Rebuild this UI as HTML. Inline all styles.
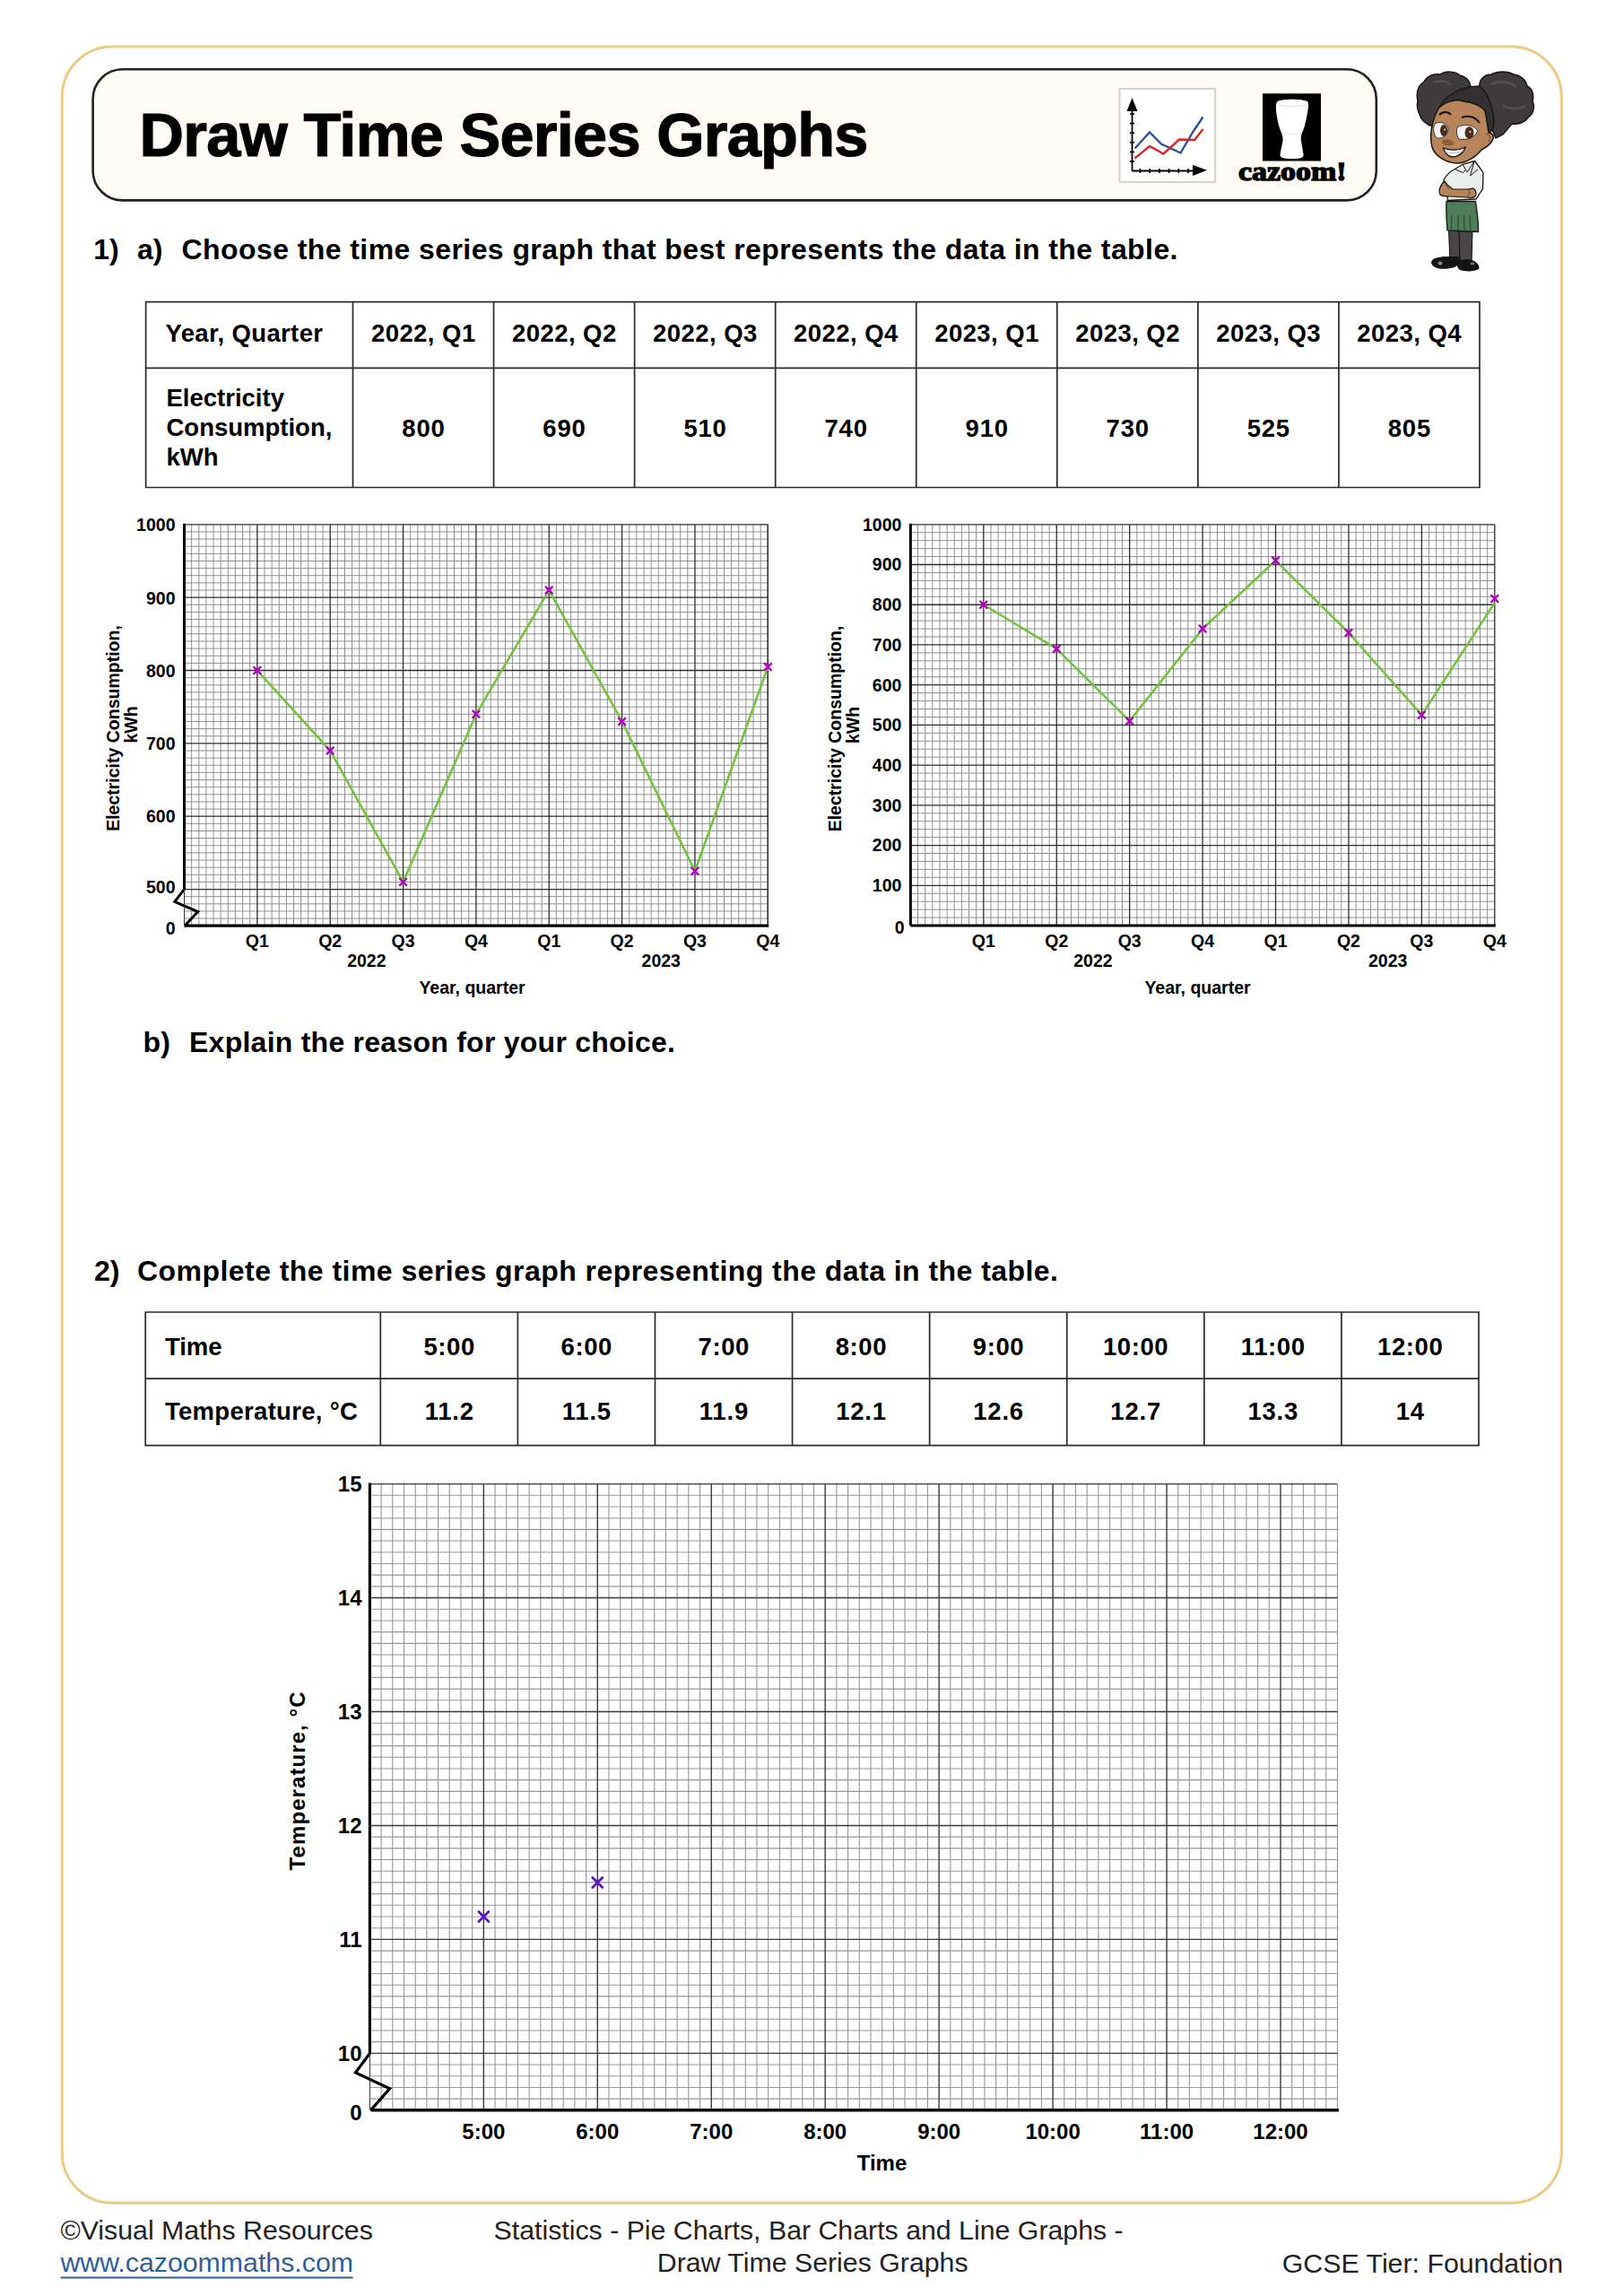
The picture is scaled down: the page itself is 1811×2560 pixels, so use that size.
<!DOCTYPE html><html><head><meta charset="utf-8"><title>Draw Time Series Graphs</title><style>
html,body{margin:0;padding:0;background:#fff;}body{width:1811px;height:2560px;overflow:hidden;position:relative;font-family:"Liberation Sans", sans-serif;}
svg{position:absolute;left:0;top:0;}text{font-family:"Liberation Sans", sans-serif;}
</style></head><body>
<svg width="1811" height="2560" viewBox="0 0 1811 2560">
<rect x="69.2" y="52" width="1672.1" height="2404.3" rx="56" ry="56" fill="none" stroke="#eecb84" stroke-width="3"/>
<rect x="103.6" y="77.3" width="1431.2" height="146.1" rx="33" ry="33" fill="#fefbf4" stroke="#222" stroke-width="2.6"/>
<text x="155.5" y="173.6" font-size="68.5" font-weight="bold" text-anchor="start" fill="#000" letter-spacing="-0.72" stroke="#000" stroke-width="1.2" stroke-linejoin="round">Draw Time Series Graphs</text>
<rect x="1248.5" y="99" width="106.6" height="104" fill="#fff" stroke="#d4d4d4" stroke-width="2.2"/>
<path d="M1262.5 190.5H1341" stroke="#000" stroke-width="1.8"/>
<path d="M1262.5 190.5V122" stroke="#000" stroke-width="1.8"/>
<path d="M1256.5 124L1262.5 109L1268.5 124Z" fill="#000"/>
<path d="M1330 184L1346 189.8L1330 196Z" fill="#000"/>
<path d="M1260 127H1265" stroke="#000" stroke-width="1.6"/>
<path d="M1260 137.6H1265" stroke="#000" stroke-width="1.6"/>
<path d="M1260 148.2H1265" stroke="#000" stroke-width="1.6"/>
<path d="M1260 158.8H1265" stroke="#000" stroke-width="1.6"/>
<path d="M1260 169.4H1265" stroke="#000" stroke-width="1.6"/>
<path d="M1260 180H1265" stroke="#000" stroke-width="1.6"/>
<path d="M1271.5 188V193" stroke="#000" stroke-width="1.6"/>
<path d="M1282.2 188V193" stroke="#000" stroke-width="1.6"/>
<path d="M1292.9 188V193" stroke="#000" stroke-width="1.6"/>
<path d="M1303.6 188V193" stroke="#000" stroke-width="1.6"/>
<path d="M1314.3 188V193" stroke="#000" stroke-width="1.6"/>
<path d="M1325 188V193" stroke="#000" stroke-width="1.6"/>
<path d="M1265.5 165.5L1282 147.5L1295 160.5L1316.5 170.5L1331 146L1341.5 130.5" stroke="#2f4fa0" stroke-width="2.4" fill="none"/>
<path d="M1265.5 176.5L1282 163L1297.5 171.5L1315 155.5L1332 156L1341.5 144" stroke="#d42a2a" stroke-width="2.4" fill="none"/>
<rect x="1408" y="104.3" width="65" height="75.2" fill="#000"/>
<path d="M1424.5 113C1431 110 1451 110 1458 113C1460.5 116 1458 127 1455 140C1452.5 148 1450 151 1451 157L1453.5 172C1454 176 1451 177 1441 177C1431 177 1427 176 1427.5 172L1430.5 157C1431 151 1428.5 148 1426 140C1423 127 1421.5 116 1424.5 113Z" fill="#fff"/>
<path d="M1426 117C1433 119 1450 119 1457 117" stroke="#ddd" stroke-width="1" fill="none"/>
<path d="M1431 148C1437 150 1446 150 1451 148" stroke="#ddd" stroke-width="1" fill="none"/>
<text x="1381" y="200.5" style="font-family:'Liberation Serif',serif" font-size="30" font-weight="bold" fill="#000" stroke="#000" stroke-width="1.4" textLength="120.5" lengthAdjust="spacingAndGlyphs">cazoom!</text>
<path d="M1615.5 256L1628 257L1627.5 290L1617 290Z" fill="#4a4648" stroke="#161414" stroke-width="1.1"/>
<path d="M1627 257L1642 258L1641 292L1628 292Z" fill="#4a4648" stroke="#161414" stroke-width="1.1"/>
<path d="M1596 293C1596 288 1604 286 1614 286L1626 286C1628 291 1627 296 1622 298C1612 301 1598 301 1596 293Z" fill="#141414"/>
<path d="M1626 290L1639 289C1646 291 1651 296 1649 300C1645 303 1633 303 1628 301C1624 298 1624 293 1626 290Z" fill="#141414"/>
<ellipse cx="1606" cy="293.5" rx="2.6" ry="2" fill="#888"/>
<ellipse cx="1642" cy="294" rx="2.4" ry="1.4" fill="#777"/>
<path d="M1613 224.5L1645.5 224.5C1647 235 1649 248 1648.5 258.5L1614 257C1613 246 1612.5 235 1613 224.5Z" fill="#4e7d5c" stroke="#161414" stroke-width="1.3"/>
<path d="M1619 240L1618.5 257M1626 240L1626 257.5M1632.5 240L1633 258M1639 240L1640 258" stroke="#1f3a28" stroke-width="0.9"/>
<path d="M1622.5 188.5L1631.5 183L1644.5 179.5C1648 184 1651 188 1654 192.5L1653.5 210.5L1646 222L1614.5 223.5L1613 210L1610 200.5C1613 195 1617 191 1622.5 188.5Z" fill="#eceeed" stroke="#161414" stroke-width="1.3"/>
<path d="M1631 183L1636 192L1644 180M1623 189L1631.5 192.5L1634 190M1644 180L1639.5 196L1648 189" stroke="#161414" stroke-width="1" fill="none"/>
<path d="M1610.5 202C1606 207 1604 213 1606 217C1608 219 1612 219 1617 219L1636 220C1640 221 1643 221 1645 219C1647 216 1646 212 1643 210L1637 211L1620 211L1614 206Z" fill="#b78559" stroke="#161414" stroke-width="1.2"/>
<path d="M1612 206L1616 211M1637.5 211C1639 214 1639 217 1637 219" stroke="#5b3a22" stroke-width="0.9" fill="none"/>
<path d="M1581 113C1579 103 1582 95 1588 91C1592 84 1600 82 1606 83C1612 79 1622 79 1628 84C1634 85 1639 90 1640 96C1636 104 1626 108 1612 114L1607 130L1598 141C1590 139 1584 133 1583 127C1580 122 1580 117 1581 113Z" fill="#3f3b3d" stroke="#161414" stroke-width="1.5"/>
<path d="M1650 97C1649 89 1655 83 1663 83C1670 79 1681 79 1688 83C1696 84 1702 90 1703 96C1709 99 1711 106 1709 113C1712 119 1710 127 1704 131C1701 136 1694 139 1686 138L1676 150L1668 154L1656 126Z" fill="#3f3b3d" stroke="#161414" stroke-width="1.5"/>
<path d="M1599 92C1605 89 1614 90 1618 95M1663 94C1672 89 1684 91 1690 97M1676 118C1684 122 1694 122 1701 118" stroke="#555153" stroke-width="2.2" fill="none"/>
<path d="M1605 120C1613 104 1632 96 1650 96C1660 104 1666 122 1666 140L1660 152L1600 132Z" fill="#343032" stroke="#161414" stroke-width="1.3"/>
<path d="M1604 121C1612 113 1624 110 1632 113C1642 114 1652 118 1656 124C1658 132 1659 141 1660 148C1664 148 1667 152 1664 157C1661 162 1656 165 1652 167C1645 176 1634 182 1624 182C1612 181 1600 174 1597 164C1594 152 1596 136 1604 121Z" fill="#b78559" stroke="#161414" stroke-width="1.5"/>
<path d="M1600 138C1605 135 1612 136 1615 143C1615 150 1610 155 1602 154C1598 149 1598 142 1600 138Z" fill="#f3f3f3" stroke="#161414" stroke-width="0.8"/>
<path d="M1625 142C1631 138 1643 138 1648 146C1645 153 1636 157 1627 155C1624 151 1624 146 1625 142Z" fill="#f3f3f3" stroke="#161414" stroke-width="0.8"/>
<ellipse cx="1610" cy="145.5" rx="4" ry="6.5" fill="#4e2d1a"/>
<ellipse cx="1638.5" cy="148" rx="5" ry="6.8" fill="#4e2d1a"/>
<circle cx="1611" cy="144.5" r="0.9" fill="#fff"/><circle cx="1639.5" cy="147" r="0.9" fill="#fff"/>
<path d="M1605 128C1609 124 1615 124 1618 128M1630 131C1637 128 1645 130 1650 137" stroke="#161414" stroke-width="2" fill="none"/>
<path d="M1608 157C1612 154 1619 155 1622 160C1619 163 1612 163 1608 160Z" fill="#8f5d38"/>
<path d="M1609.5 165C1617 168 1627 168 1634 164C1632 171 1626 175 1619 175C1614 174 1611 170 1609.5 165Z" fill="#fafafa" stroke="#161414" stroke-width="1.3"/>
<path d="M1611 169.5C1618 171 1626 171 1632 168.5" stroke="#999" stroke-width="0.7" fill="none"/>
<path d="M1657 150C1661 149 1663 153 1660 158" stroke="#5b3a22" stroke-width="1" fill="none"/>
<text x="104.2" y="288.5" font-size="32" font-weight="bold" text-anchor="start" fill="#000" >1)</text>
<text x="153" y="288.5" font-size="32" font-weight="bold" text-anchor="start" fill="#000" >a)</text>
<text x="202.5" y="288.5" font-size="32" font-weight="bold" text-anchor="start" fill="#000" textLength="1111" lengthAdjust="spacing">Choose the time series graph that best represents the data in the table.</text>
<path d="M162.6 336.6H1650M162.6 410.3H1650M162.6 543.5H1650M162.6 336.6V543.5M393.5 336.6V543.5M550.56 336.6V543.5M707.62 336.6V543.5M864.69 336.6V543.5M1021.75 336.6V543.5M1178.81 336.6V543.5M1335.88 336.6V543.5M1492.94 336.6V543.5M1650 336.6V543.5" stroke="#2a2a2a" stroke-width="1.7" fill="none" stroke-linecap="square"/>
<text x="184.5" y="381" font-size="27.5" font-weight="bold" text-anchor="start" fill="#000" textLength="175.5" lengthAdjust="spacing">Year, Quarter</text>
<text x="185.5" y="453.3" font-size="27.5" font-weight="bold" text-anchor="start" fill="#000" >Electricity</text>
<text x="185.5" y="486" font-size="27.5" font-weight="bold" text-anchor="start" fill="#000" >Consumption,</text>
<text x="185.5" y="518.6" font-size="27.5" font-weight="bold" text-anchor="start" fill="#000" >kWh</text>
<text x="472.28" y="381" font-size="27.5" font-weight="bold" text-anchor="middle" fill="#000" letter-spacing="0.45">2022, Q1</text>
<text x="472.43" y="486.5" font-size="27.5" font-weight="bold" text-anchor="middle" fill="#000" letter-spacing="0.8">800</text>
<text x="629.34" y="381" font-size="27.5" font-weight="bold" text-anchor="middle" fill="#000" letter-spacing="0.45">2022, Q2</text>
<text x="629.49" y="486.5" font-size="27.5" font-weight="bold" text-anchor="middle" fill="#000" letter-spacing="0.8">690</text>
<text x="786.41" y="381" font-size="27.5" font-weight="bold" text-anchor="middle" fill="#000" letter-spacing="0.45">2022, Q3</text>
<text x="786.56" y="486.5" font-size="27.5" font-weight="bold" text-anchor="middle" fill="#000" letter-spacing="0.8">510</text>
<text x="943.47" y="381" font-size="27.5" font-weight="bold" text-anchor="middle" fill="#000" letter-spacing="0.45">2022, Q4</text>
<text x="943.62" y="486.5" font-size="27.5" font-weight="bold" text-anchor="middle" fill="#000" letter-spacing="0.8">740</text>
<text x="1100.53" y="381" font-size="27.5" font-weight="bold" text-anchor="middle" fill="#000" letter-spacing="0.45">2023, Q1</text>
<text x="1100.68" y="486.5" font-size="27.5" font-weight="bold" text-anchor="middle" fill="#000" letter-spacing="0.8">910</text>
<text x="1257.59" y="381" font-size="27.5" font-weight="bold" text-anchor="middle" fill="#000" letter-spacing="0.45">2023, Q2</text>
<text x="1257.74" y="486.5" font-size="27.5" font-weight="bold" text-anchor="middle" fill="#000" letter-spacing="0.8">730</text>
<text x="1414.66" y="381" font-size="27.5" font-weight="bold" text-anchor="middle" fill="#000" letter-spacing="0.45">2023, Q3</text>
<text x="1414.81" y="486.5" font-size="27.5" font-weight="bold" text-anchor="middle" fill="#000" letter-spacing="0.8">525</text>
<text x="1571.72" y="381" font-size="27.5" font-weight="bold" text-anchor="middle" fill="#000" letter-spacing="0.45">2023, Q4</text>
<text x="1571.87" y="486.5" font-size="27.5" font-weight="bold" text-anchor="middle" fill="#000" letter-spacing="0.8">805</text>
<path d="M213.63 584.8V1032.22M221.77 584.8V1032.22M229.91 584.8V1032.22M238.04 584.8V1032.22M246.18 584.8V1032.22M254.31 584.8V1032.22M262.44 584.8V1032.22M270.58 584.8V1032.22M278.72 584.8V1032.22M294.99 584.8V1032.22M303.12 584.8V1032.22M311.25 584.8V1032.22M319.39 584.8V1032.22M327.52 584.8V1032.22M335.66 584.8V1032.22M343.79 584.8V1032.22M351.93 584.8V1032.22M360.06 584.8V1032.22M376.34 584.8V1032.22M384.47 584.8V1032.22M392.61 584.8V1032.22M400.74 584.8V1032.22M408.88 584.8V1032.22M417.01 584.8V1032.22M425.14 584.8V1032.22M433.28 584.8V1032.22M441.41 584.8V1032.22M457.69 584.8V1032.22M465.82 584.8V1032.22M473.95 584.8V1032.22M482.09 584.8V1032.22M490.22 584.8V1032.22M498.36 584.8V1032.22M506.5 584.8V1032.22M514.63 584.8V1032.22M522.76 584.8V1032.22M539.03 584.8V1032.22M547.17 584.8V1032.22M555.31 584.8V1032.22M563.44 584.8V1032.22M571.58 584.8V1032.22M579.71 584.8V1032.22M587.85 584.8V1032.22M595.98 584.8V1032.22M604.12 584.8V1032.22M620.38 584.8V1032.22M628.52 584.8V1032.22M636.65 584.8V1032.22M644.79 584.8V1032.22M652.92 584.8V1032.22M661.06 584.8V1032.22M669.19 584.8V1032.22M677.33 584.8V1032.22M685.46 584.8V1032.22M701.74 584.8V1032.22M709.87 584.8V1032.22M718 584.8V1032.22M726.14 584.8V1032.22M734.27 584.8V1032.22M742.41 584.8V1032.22M750.54 584.8V1032.22M758.68 584.8V1032.22M766.81 584.8V1032.22M783.09 584.8V1032.22M791.22 584.8V1032.22M799.36 584.8V1032.22M807.49 584.8V1032.22M815.62 584.8V1032.22M823.76 584.8V1032.22M831.89 584.8V1032.22M840.03 584.8V1032.22M848.16 584.8V1032.22" stroke="#8e8e8e" stroke-width="1.0" fill="none"/>
<path d="M205.5 592.93H856.3M205.5 601.07H856.3M205.5 609.2H856.3M205.5 617.34H856.3M205.5 625.47H856.3M205.5 633.61H856.3M205.5 641.75H856.3M205.5 649.88H856.3M205.5 658.01H856.3M205.5 674.28H856.3M205.5 682.42H856.3M205.5 690.55H856.3M205.5 698.69H856.3M205.5 706.82H856.3M205.5 714.96H856.3M205.5 723.09H856.3M205.5 731.23H856.3M205.5 739.37H856.3M205.5 755.63H856.3M205.5 763.77H856.3M205.5 771.9H856.3M205.5 780.04H856.3M205.5 788.17H856.3M205.5 796.31H856.3M205.5 804.44H856.3M205.5 812.58H856.3M205.5 820.71H856.3M205.5 836.98H856.3M205.5 845.12H856.3M205.5 853.25H856.3M205.5 861.39H856.3M205.5 869.52H856.3M205.5 877.66H856.3M205.5 885.79H856.3M205.5 893.93H856.3M205.5 902.06H856.3M205.5 918.33H856.3M205.5 926.47H856.3M205.5 934.61H856.3M205.5 942.74H856.3M205.5 950.88H856.3M205.5 959.01H856.3M205.5 967.14H856.3M205.5 975.28H856.3M205.5 983.41H856.3M205.5 999.68H856.3M205.5 1007.82H856.3M205.5 1015.95H856.3M205.5 1024.09H856.3" stroke="#8e8e8e" stroke-width="1.0" fill="none"/>
<path d="M286.85 584.8V1032.22M368.2 584.8V1032.22M449.55 584.8V1032.22M530.9 584.8V1032.22M612.25 584.8V1032.22M693.6 584.8V1032.22M774.95 584.8V1032.22M856.3 584.8V1032.22M205.5 584.8H856.3M205.5 666.15H856.3M205.5 747.5H856.3M205.5 828.85H856.3M205.5 910.2H856.3M205.5 991.55H856.3" stroke="#2e2e2e" stroke-width="1.3" fill="none"/>
<path d="M856.3 584.8V1032.22" stroke="#2e2e2e" stroke-width="1.3"/>
<path d="M205.5 1032.22H857.3" stroke="#000" stroke-width="3.2"/>
<path d="M205.5 583.8V991.55L194.8 1005.4L220.7 1016.5L206 1032.22" stroke="#000" stroke-width="3" fill="none" stroke-linejoin="miter"/>
<polyline points="286.85,747.5 368.2,836.98 449.55,983.41 530.9,796.31 612.25,658.01 693.6,804.44 774.95,971.21 856.3,743.43" fill="none" stroke="#74c23e" stroke-width="2.6" stroke-linejoin="round"/>
<path d="M283.25 743.9L290.45 751.1M283.25 751.1L290.45 743.9" stroke="#b300bf" stroke-width="2.4" stroke-linecap="round"/>
<path d="M364.6 833.38L371.8 840.58M364.6 840.58L371.8 833.38" stroke="#b300bf" stroke-width="2.4" stroke-linecap="round"/>
<path d="M445.95 979.81L453.15 987.01M445.95 987.01L453.15 979.81" stroke="#b300bf" stroke-width="2.4" stroke-linecap="round"/>
<path d="M527.3 792.71L534.5 799.91M527.3 799.91L534.5 792.71" stroke="#b300bf" stroke-width="2.4" stroke-linecap="round"/>
<path d="M608.65 654.41L615.85 661.62M608.65 661.62L615.85 654.41" stroke="#b300bf" stroke-width="2.4" stroke-linecap="round"/>
<path d="M690 800.84L697.2 808.04M690 808.04L697.2 800.84" stroke="#b300bf" stroke-width="2.4" stroke-linecap="round"/>
<path d="M771.35 967.61L778.55 974.81M771.35 974.81L778.55 967.61" stroke="#b300bf" stroke-width="2.4" stroke-linecap="round"/>
<path d="M852.7 739.83L859.9 747.03M852.7 747.03L859.9 739.83" stroke="#b300bf" stroke-width="2.4" stroke-linecap="round"/>
<text x="195.5" y="591.7" font-size="19.5" font-weight="bold" text-anchor="end" fill="#000" >1000</text>
<text x="195.5" y="673.75" font-size="19.5" font-weight="bold" text-anchor="end" fill="#000" >900</text>
<text x="195.5" y="755.1" font-size="19.5" font-weight="bold" text-anchor="end" fill="#000" >800</text>
<text x="195.5" y="836.25" font-size="19.5" font-weight="bold" text-anchor="end" fill="#000" >700</text>
<text x="195.5" y="917.4" font-size="19.5" font-weight="bold" text-anchor="end" fill="#000" >600</text>
<text x="195.5" y="995.85" font-size="19.5" font-weight="bold" text-anchor="end" fill="#000" >500</text>
<text x="195.5" y="1041.62" font-size="19.5" font-weight="bold" text-anchor="end" fill="#000" >0</text>
<path d="M205.5 991.55V1032.22" stroke="#333" stroke-width="1"/>
<text x="286.85" y="1056.3" font-size="19.5" font-weight="bold" text-anchor="middle" fill="#000" >Q1</text>
<text x="368.2" y="1056.3" font-size="19.5" font-weight="bold" text-anchor="middle" fill="#000" >Q2</text>
<text x="449.55" y="1056.3" font-size="19.5" font-weight="bold" text-anchor="middle" fill="#000" >Q3</text>
<text x="530.9" y="1056.3" font-size="19.5" font-weight="bold" text-anchor="middle" fill="#000" >Q4</text>
<text x="612.25" y="1056.3" font-size="19.5" font-weight="bold" text-anchor="middle" fill="#000" >Q1</text>
<text x="693.6" y="1056.3" font-size="19.5" font-weight="bold" text-anchor="middle" fill="#000" >Q2</text>
<text x="774.95" y="1056.3" font-size="19.5" font-weight="bold" text-anchor="middle" fill="#000" >Q3</text>
<text x="856.3" y="1056.3" font-size="19.5" font-weight="bold" text-anchor="middle" fill="#000" >Q4</text>
<text x="408.88" y="1078.3" font-size="19.5" font-weight="bold" text-anchor="middle" fill="#000" >2022</text>
<text x="737.27" y="1078.3" font-size="19.5" font-weight="bold" text-anchor="middle" fill="#000" >2023</text>
<text x="526.5" y="1107.5" font-size="19.5" font-weight="bold" text-anchor="middle" fill="#000" >Year, quarter</text>
<text x="132.5" y="812" font-size="19.5" font-weight="bold" text-anchor="middle" fill="#000" transform="rotate(-90 132.5 812)">Electricity Consumption,</text>
<text x="153.4" y="808" font-size="19.5" font-weight="bold" text-anchor="middle" fill="#000" transform="rotate(-90 153.4 808)">kWh</text>
<path d="M1023.54 584.8V1032M1031.68 584.8V1032M1039.83 584.8V1032M1047.97 584.8V1032M1056.11 584.8V1032M1064.25 584.8V1032M1072.4 584.8V1032M1080.54 584.8V1032M1088.68 584.8V1032M1104.97 584.8V1032M1113.11 584.8V1032M1121.25 584.8V1032M1129.39 584.8V1032M1137.54 584.8V1032M1145.68 584.8V1032M1153.82 584.8V1032M1161.96 584.8V1032M1170.11 584.8V1032M1186.39 584.8V1032M1194.53 584.8V1032M1202.68 584.8V1032M1210.82 584.8V1032M1218.96 584.8V1032M1227.11 584.8V1032M1235.25 584.8V1032M1243.39 584.8V1032M1251.53 584.8V1032M1267.82 584.8V1032M1275.96 584.8V1032M1284.1 584.8V1032M1292.24 584.8V1032M1300.39 584.8V1032M1308.53 584.8V1032M1316.67 584.8V1032M1324.82 584.8V1032M1332.96 584.8V1032M1349.24 584.8V1032M1357.38 584.8V1032M1365.53 584.8V1032M1373.67 584.8V1032M1381.81 584.8V1032M1389.95 584.8V1032M1398.1 584.8V1032M1406.24 584.8V1032M1414.38 584.8V1032M1430.67 584.8V1032M1438.81 584.8V1032M1446.95 584.8V1032M1455.1 584.8V1032M1463.24 584.8V1032M1471.38 584.8V1032M1479.52 584.8V1032M1487.66 584.8V1032M1495.81 584.8V1032M1512.09 584.8V1032M1520.23 584.8V1032M1528.38 584.8V1032M1536.52 584.8V1032M1544.66 584.8V1032M1552.8 584.8V1032M1560.95 584.8V1032M1569.09 584.8V1032M1577.23 584.8V1032M1593.52 584.8V1032M1601.66 584.8V1032M1609.8 584.8V1032M1617.94 584.8V1032M1626.09 584.8V1032M1634.23 584.8V1032M1642.37 584.8V1032M1650.51 584.8V1032M1658.66 584.8V1032" stroke="#8e8e8e" stroke-width="1.0" fill="none"/>
<path d="M1015.4 593.74H1666.8M1015.4 602.69H1666.8M1015.4 611.63H1666.8M1015.4 620.58H1666.8M1015.4 638.46H1666.8M1015.4 647.41H1666.8M1015.4 656.35H1666.8M1015.4 665.3H1666.8M1015.4 683.18H1666.8M1015.4 692.13H1666.8M1015.4 701.07H1666.8M1015.4 710.02H1666.8M1015.4 727.9H1666.8M1015.4 736.85H1666.8M1015.4 745.79H1666.8M1015.4 754.74H1666.8M1015.4 772.62H1666.8M1015.4 781.57H1666.8M1015.4 790.51H1666.8M1015.4 799.46H1666.8M1015.4 817.34H1666.8M1015.4 826.29H1666.8M1015.4 835.23H1666.8M1015.4 844.18H1666.8M1015.4 862.06H1666.8M1015.4 871.01H1666.8M1015.4 879.95H1666.8M1015.4 888.9H1666.8M1015.4 906.78H1666.8M1015.4 915.73H1666.8M1015.4 924.67H1666.8M1015.4 933.62H1666.8M1015.4 951.5H1666.8M1015.4 960.45H1666.8M1015.4 969.39H1666.8M1015.4 978.34H1666.8M1015.4 996.22H1666.8M1015.4 1005.17H1666.8M1015.4 1014.11H1666.8M1015.4 1023.06H1666.8" stroke="#8e8e8e" stroke-width="1.0" fill="none"/>
<path d="M1096.83 584.8V1032M1178.25 584.8V1032M1259.67 584.8V1032M1341.1 584.8V1032M1422.53 584.8V1032M1503.95 584.8V1032M1585.38 584.8V1032M1666.8 584.8V1032M1015.4 584.8H1666.8M1015.4 629.52H1666.8M1015.4 674.24H1666.8M1015.4 718.96H1666.8M1015.4 763.68H1666.8M1015.4 808.4H1666.8M1015.4 853.12H1666.8M1015.4 897.84H1666.8M1015.4 942.56H1666.8M1015.4 987.28H1666.8" stroke="#2e2e2e" stroke-width="1.3" fill="none"/>
<path d="M1015.4 1032H1667.8" stroke="#000" stroke-width="3.2"/>
<path d="M1015.4 583.8V1032" stroke="#000" stroke-width="3"/>
<polyline points="1096.83,674.24 1178.25,723.43 1259.67,803.93 1341.1,701.07 1422.53,625.05 1503.95,705.54 1585.38,797.22 1666.8,672" fill="none" stroke="#74c23e" stroke-width="2.6" stroke-linejoin="round"/>
<path d="M1093.23 670.64L1100.42 677.84M1093.23 677.84L1100.42 670.64" stroke="#b300bf" stroke-width="2.4" stroke-linecap="round"/>
<path d="M1174.65 719.83L1181.85 727.03M1174.65 727.03L1181.85 719.83" stroke="#b300bf" stroke-width="2.4" stroke-linecap="round"/>
<path d="M1256.08 800.33L1263.27 807.53M1256.08 807.53L1263.27 800.33" stroke="#b300bf" stroke-width="2.4" stroke-linecap="round"/>
<path d="M1337.5 697.47L1344.7 704.67M1337.5 704.67L1344.7 697.47" stroke="#b300bf" stroke-width="2.4" stroke-linecap="round"/>
<path d="M1418.93 621.45L1426.12 628.65M1418.93 628.65L1426.12 621.45" stroke="#b300bf" stroke-width="2.4" stroke-linecap="round"/>
<path d="M1500.35 701.94L1507.55 709.14M1500.35 709.14L1507.55 701.94" stroke="#b300bf" stroke-width="2.4" stroke-linecap="round"/>
<path d="M1581.78 793.62L1588.97 800.82M1581.78 800.82L1588.97 793.62" stroke="#b300bf" stroke-width="2.4" stroke-linecap="round"/>
<path d="M1663.2 663.93L1670.4 671.13M1663.2 671.13L1670.4 663.93" stroke="#b300bf" stroke-width="2.4" stroke-linecap="round"/>
<text x="1005.4" y="591.7" font-size="19.5" font-weight="bold" text-anchor="end" fill="#000" >1000</text>
<text x="1005.4" y="636.42" font-size="19.5" font-weight="bold" text-anchor="end" fill="#000" >900</text>
<text x="1005.4" y="681.14" font-size="19.5" font-weight="bold" text-anchor="end" fill="#000" >800</text>
<text x="1005.4" y="725.86" font-size="19.5" font-weight="bold" text-anchor="end" fill="#000" >700</text>
<text x="1005.4" y="770.58" font-size="19.5" font-weight="bold" text-anchor="end" fill="#000" >600</text>
<text x="1005.4" y="815.3" font-size="19.5" font-weight="bold" text-anchor="end" fill="#000" >500</text>
<text x="1005.4" y="860.02" font-size="19.5" font-weight="bold" text-anchor="end" fill="#000" >400</text>
<text x="1005.4" y="904.74" font-size="19.5" font-weight="bold" text-anchor="end" fill="#000" >300</text>
<text x="1005.4" y="949.46" font-size="19.5" font-weight="bold" text-anchor="end" fill="#000" >200</text>
<text x="1005.4" y="994.18" font-size="19.5" font-weight="bold" text-anchor="end" fill="#000" >100</text>
<text x="1008.5" y="1041.4" font-size="19.5" font-weight="bold" text-anchor="end" fill="#000" >0</text>
<text x="1096.83" y="1056.3" font-size="19.5" font-weight="bold" text-anchor="middle" fill="#000" >Q1</text>
<text x="1178.25" y="1056.3" font-size="19.5" font-weight="bold" text-anchor="middle" fill="#000" >Q2</text>
<text x="1259.67" y="1056.3" font-size="19.5" font-weight="bold" text-anchor="middle" fill="#000" >Q3</text>
<text x="1341.1" y="1056.3" font-size="19.5" font-weight="bold" text-anchor="middle" fill="#000" >Q4</text>
<text x="1422.53" y="1056.3" font-size="19.5" font-weight="bold" text-anchor="middle" fill="#000" >Q1</text>
<text x="1503.95" y="1056.3" font-size="19.5" font-weight="bold" text-anchor="middle" fill="#000" >Q2</text>
<text x="1585.38" y="1056.3" font-size="19.5" font-weight="bold" text-anchor="middle" fill="#000" >Q3</text>
<text x="1666.8" y="1056.3" font-size="19.5" font-weight="bold" text-anchor="middle" fill="#000" >Q4</text>
<text x="1218.96" y="1078.3" font-size="19.5" font-weight="bold" text-anchor="middle" fill="#000" >2022</text>
<text x="1547.66" y="1078.3" font-size="19.5" font-weight="bold" text-anchor="middle" fill="#000" >2023</text>
<text x="1335.5" y="1107.5" font-size="19.5" font-weight="bold" text-anchor="middle" fill="#000" >Year, quarter</text>
<text x="937.7" y="812.5" font-size="19.5" font-weight="bold" text-anchor="middle" fill="#000" transform="rotate(-90 937.7 812.5)">Electricity Consumption,</text>
<text x="958.1" y="808.5" font-size="19.5" font-weight="bold" text-anchor="middle" fill="#000" transform="rotate(-90 958.1 808.5)">kWh</text>
<text x="159.6" y="1173" font-size="32" font-weight="bold" text-anchor="start" fill="#000" >b)</text>
<text x="211" y="1173" font-size="32" font-weight="bold" text-anchor="start" fill="#000" textLength="542" lengthAdjust="spacing">Explain the reason for your choice.</text>
<text x="105" y="1428.3" font-size="32" font-weight="bold" text-anchor="start" fill="#000" >2)</text>
<text x="153" y="1428.3" font-size="32" font-weight="bold" text-anchor="start" fill="#000" textLength="1027" lengthAdjust="spacing">Complete the time series graph representing the data in the table.</text>
<path d="M162.2 1463H1649M162.2 1537.2H1649M162.2 1611.6H1649M162.2 1463V1611.6M424.3 1463V1611.6M577.39 1463V1611.6M730.48 1463V1611.6M883.56 1463V1611.6M1036.65 1463V1611.6M1189.74 1463V1611.6M1342.83 1463V1611.6M1495.91 1463V1611.6M1649 1463V1611.6" stroke="#2a2a2a" stroke-width="1.7" fill="none" stroke-linecap="square"/>
<text x="183.9" y="1511" font-size="27.5" font-weight="bold" text-anchor="start" fill="#000" >Time</text>
<text x="183.9" y="1583" font-size="27.5" font-weight="bold" text-anchor="start" fill="#000" textLength="215" lengthAdjust="spacing">Temperature, °C</text>
<text x="501.14" y="1511" font-size="27.5" font-weight="bold" text-anchor="middle" fill="#000" letter-spacing="0.6">5:00</text>
<text x="501.24" y="1583" font-size="27.5" font-weight="bold" text-anchor="middle" fill="#000" letter-spacing="0.8">11.2</text>
<text x="654.23" y="1511" font-size="27.5" font-weight="bold" text-anchor="middle" fill="#000" letter-spacing="0.6">6:00</text>
<text x="654.33" y="1583" font-size="27.5" font-weight="bold" text-anchor="middle" fill="#000" letter-spacing="0.8">11.5</text>
<text x="807.32" y="1511" font-size="27.5" font-weight="bold" text-anchor="middle" fill="#000" letter-spacing="0.6">7:00</text>
<text x="807.42" y="1583" font-size="27.5" font-weight="bold" text-anchor="middle" fill="#000" letter-spacing="0.8">11.9</text>
<text x="960.41" y="1511" font-size="27.5" font-weight="bold" text-anchor="middle" fill="#000" letter-spacing="0.6">8:00</text>
<text x="960.51" y="1583" font-size="27.5" font-weight="bold" text-anchor="middle" fill="#000" letter-spacing="0.8">12.1</text>
<text x="1113.49" y="1511" font-size="27.5" font-weight="bold" text-anchor="middle" fill="#000" letter-spacing="0.6">9:00</text>
<text x="1113.59" y="1583" font-size="27.5" font-weight="bold" text-anchor="middle" fill="#000" letter-spacing="0.8">12.6</text>
<text x="1266.58" y="1511" font-size="27.5" font-weight="bold" text-anchor="middle" fill="#000" letter-spacing="0.6">10:00</text>
<text x="1266.68" y="1583" font-size="27.5" font-weight="bold" text-anchor="middle" fill="#000" letter-spacing="0.8">12.7</text>
<text x="1419.67" y="1511" font-size="27.5" font-weight="bold" text-anchor="middle" fill="#000" letter-spacing="0.6">11:00</text>
<text x="1419.77" y="1583" font-size="27.5" font-weight="bold" text-anchor="middle" fill="#000" letter-spacing="0.8">13.3</text>
<text x="1572.76" y="1511" font-size="27.5" font-weight="bold" text-anchor="middle" fill="#000" letter-spacing="0.6">12:00</text>
<text x="1572.86" y="1583" font-size="27.5" font-weight="bold" text-anchor="middle" fill="#000" letter-spacing="0.8">14</text>
<path d="M425.09 1654.6V2352.82M437.79 1654.6V2352.82M450.48 1654.6V2352.82M463.18 1654.6V2352.82M475.88 1654.6V2352.82M488.57 1654.6V2352.82M501.26 1654.6V2352.82M513.96 1654.6V2352.82M526.65 1654.6V2352.82M552.04 1654.6V2352.82M564.74 1654.6V2352.82M577.43 1654.6V2352.82M590.13 1654.6V2352.82M602.83 1654.6V2352.82M615.52 1654.6V2352.82M628.21 1654.6V2352.82M640.91 1654.6V2352.82M653.61 1654.6V2352.82M679 1654.6V2352.82M691.69 1654.6V2352.82M704.38 1654.6V2352.82M717.08 1654.6V2352.82M729.77 1654.6V2352.82M742.47 1654.6V2352.82M755.16 1654.6V2352.82M767.86 1654.6V2352.82M780.56 1654.6V2352.82M805.94 1654.6V2352.82M818.64 1654.6V2352.82M831.34 1654.6V2352.82M844.03 1654.6V2352.82M856.72 1654.6V2352.82M869.42 1654.6V2352.82M882.12 1654.6V2352.82M894.81 1654.6V2352.82M907.5 1654.6V2352.82M932.89 1654.6V2352.82M945.59 1654.6V2352.82M958.28 1654.6V2352.82M970.98 1654.6V2352.82M983.67 1654.6V2352.82M996.37 1654.6V2352.82M1009.06 1654.6V2352.82M1021.76 1654.6V2352.82M1034.45 1654.6V2352.82M1059.85 1654.6V2352.82M1072.54 1654.6V2352.82M1085.24 1654.6V2352.82M1097.93 1654.6V2352.82M1110.62 1654.6V2352.82M1123.32 1654.6V2352.82M1136.01 1654.6V2352.82M1148.71 1654.6V2352.82M1161.4 1654.6V2352.82M1186.8 1654.6V2352.82M1199.49 1654.6V2352.82M1212.18 1654.6V2352.82M1224.88 1654.6V2352.82M1237.58 1654.6V2352.82M1250.27 1654.6V2352.82M1262.97 1654.6V2352.82M1275.66 1654.6V2352.82M1288.36 1654.6V2352.82M1313.74 1654.6V2352.82M1326.44 1654.6V2352.82M1339.13 1654.6V2352.82M1351.83 1654.6V2352.82M1364.53 1654.6V2352.82M1377.22 1654.6V2352.82M1389.91 1654.6V2352.82M1402.61 1654.6V2352.82M1415.3 1654.6V2352.82M1440.7 1654.6V2352.82M1453.39 1654.6V2352.82M1466.09 1654.6V2352.82M1478.78 1654.6V2352.82M1491.47 1654.6V2352.82" stroke="#979797" stroke-width="1.1" fill="none"/>
<path d="M412.4 1667.29H1491.47M412.4 1679.99H1491.47M412.4 1692.68H1491.47M412.4 1705.38H1491.47M412.4 1718.07H1491.47M412.4 1730.77H1491.47M412.4 1743.46H1491.47M412.4 1756.16H1491.47M412.4 1768.86H1491.47M412.4 1794.24H1491.47M412.4 1806.94H1491.47M412.4 1819.63H1491.47M412.4 1832.33H1491.47M412.4 1845.02H1491.47M412.4 1857.72H1491.47M412.4 1870.41H1491.47M412.4 1883.11H1491.47M412.4 1895.8H1491.47M412.4 1921.19H1491.47M412.4 1933.89H1491.47M412.4 1946.59H1491.47M412.4 1959.28H1491.47M412.4 1971.97H1491.47M412.4 1984.67H1491.47M412.4 1997.36H1491.47M412.4 2010.06H1491.47M412.4 2022.75H1491.47M412.4 2048.14H1491.47M412.4 2060.84H1491.47M412.4 2073.53H1491.47M412.4 2086.23H1491.47M412.4 2098.92H1491.47M412.4 2111.62H1491.47M412.4 2124.32H1491.47M412.4 2137.01H1491.47M412.4 2149.7H1491.47M412.4 2175.09H1491.47M412.4 2187.79H1491.47M412.4 2200.48H1491.47M412.4 2213.18H1491.47M412.4 2225.88H1491.47M412.4 2238.57H1491.47M412.4 2251.26H1491.47M412.4 2263.96H1491.47M412.4 2276.65H1491.47M412.4 2302.05H1491.47M412.4 2314.74H1491.47M412.4 2327.43H1491.47M412.4 2340.13H1491.47" stroke="#979797" stroke-width="1.1" fill="none"/>
<path d="M539.35 1654.6V2352.82M666.3 1654.6V2352.82M793.25 1654.6V2352.82M920.2 1654.6V2352.82M1047.15 1654.6V2352.82M1174.1 1654.6V2352.82M1301.05 1654.6V2352.82M1428 1654.6V2352.82M412.4 1654.6H1491.47M412.4 1781.55H1491.47M412.4 1908.5H1491.47M412.4 2035.45H1491.47M412.4 2162.4H1491.47M412.4 2289.35H1491.47" stroke="#3a3a3a" stroke-width="1.4" fill="none"/>
<path d="M413.4 2352.82H1492.97" stroke="#000" stroke-width="3.4"/>
<path d="M412.4 1653.6V2289.35L396.5 2310.9L434.6 2328.8L413.4 2352.82" stroke="#000" stroke-width="3.2" fill="none" stroke-linejoin="miter"/>
<path d="M533.85 2131.51L544.85 2142.51M533.85 2142.51L544.85 2131.51" stroke="#5a16c2" stroke-width="2.8" stroke-linecap="round"/>
<path d="M660.8 2093.42L671.8 2104.42M660.8 2104.42L671.8 2093.42" stroke="#5a16c2" stroke-width="2.8" stroke-linecap="round"/>
<text x="403.5" y="1663" font-size="24" font-weight="bold" text-anchor="end" fill="#000" >15</text>
<text x="403.5" y="1789.95" font-size="24" font-weight="bold" text-anchor="end" fill="#000" >14</text>
<text x="403.5" y="1916.9" font-size="24" font-weight="bold" text-anchor="end" fill="#000" >13</text>
<text x="403.5" y="2043.85" font-size="24" font-weight="bold" text-anchor="end" fill="#000" >12</text>
<text x="403.5" y="2170.8" font-size="24" font-weight="bold" text-anchor="end" fill="#000" >11</text>
<text x="403.5" y="2297.75" font-size="24" font-weight="bold" text-anchor="end" fill="#000" >10</text>
<text x="403.5" y="2364.42" font-size="24" font-weight="bold" text-anchor="end" fill="#000" >0</text>
<path d="M412.4 2289.35V2352.82" stroke="#333" stroke-width="1"/>
<text x="539.35" y="2384.6" font-size="24" font-weight="bold" text-anchor="middle" fill="#000" >5:00</text>
<text x="666.3" y="2384.6" font-size="24" font-weight="bold" text-anchor="middle" fill="#000" >6:00</text>
<text x="793.25" y="2384.6" font-size="24" font-weight="bold" text-anchor="middle" fill="#000" >7:00</text>
<text x="920.2" y="2384.6" font-size="24" font-weight="bold" text-anchor="middle" fill="#000" >8:00</text>
<text x="1047.15" y="2384.6" font-size="24" font-weight="bold" text-anchor="middle" fill="#000" >9:00</text>
<text x="1174.1" y="2384.6" font-size="24" font-weight="bold" text-anchor="middle" fill="#000" >10:00</text>
<text x="1301.05" y="2384.6" font-size="24" font-weight="bold" text-anchor="middle" fill="#000" >11:00</text>
<text x="1428" y="2384.6" font-size="24" font-weight="bold" text-anchor="middle" fill="#000" >12:00</text>
<text x="983.5" y="2420.2" font-size="24" font-weight="bold" text-anchor="middle" fill="#000" >Time</text>
<text x="339.7" y="1985.9" font-size="24" font-weight="bold" text-anchor="middle" fill="#000" textLength="199" lengthAdjust="spacing" transform="rotate(-90 339.7 1985.9)">Temperature, °C</text>
<text x="67.4" y="2496.7" font-size="30.3" font-weight="normal" text-anchor="start" fill="#222" >©Visual Maths Resources</text>
<text x="67.4" y="2533.3" font-size="30.3" font-weight="normal" text-anchor="start" fill="#2c5f9e" >www.cazoommaths.com</text>
<path d="M67.5 2539.6H393.6" stroke="#2c5f9e" stroke-width="2"/>
<text x="901.6" y="2496.7" font-size="30.3" font-weight="normal" text-anchor="middle" fill="#222" >Statistics - Pie Charts, Bar Charts and Line Graphs -</text>
<text x="906.2" y="2533.3" font-size="30.3" font-weight="normal" text-anchor="middle" fill="#222" >Draw Time Series Graphs</text>
<text x="1743" y="2533.5" font-size="30.3" font-weight="normal" text-anchor="end" fill="#222" >GCSE Tier: Foundation</text>
</svg></body></html>
